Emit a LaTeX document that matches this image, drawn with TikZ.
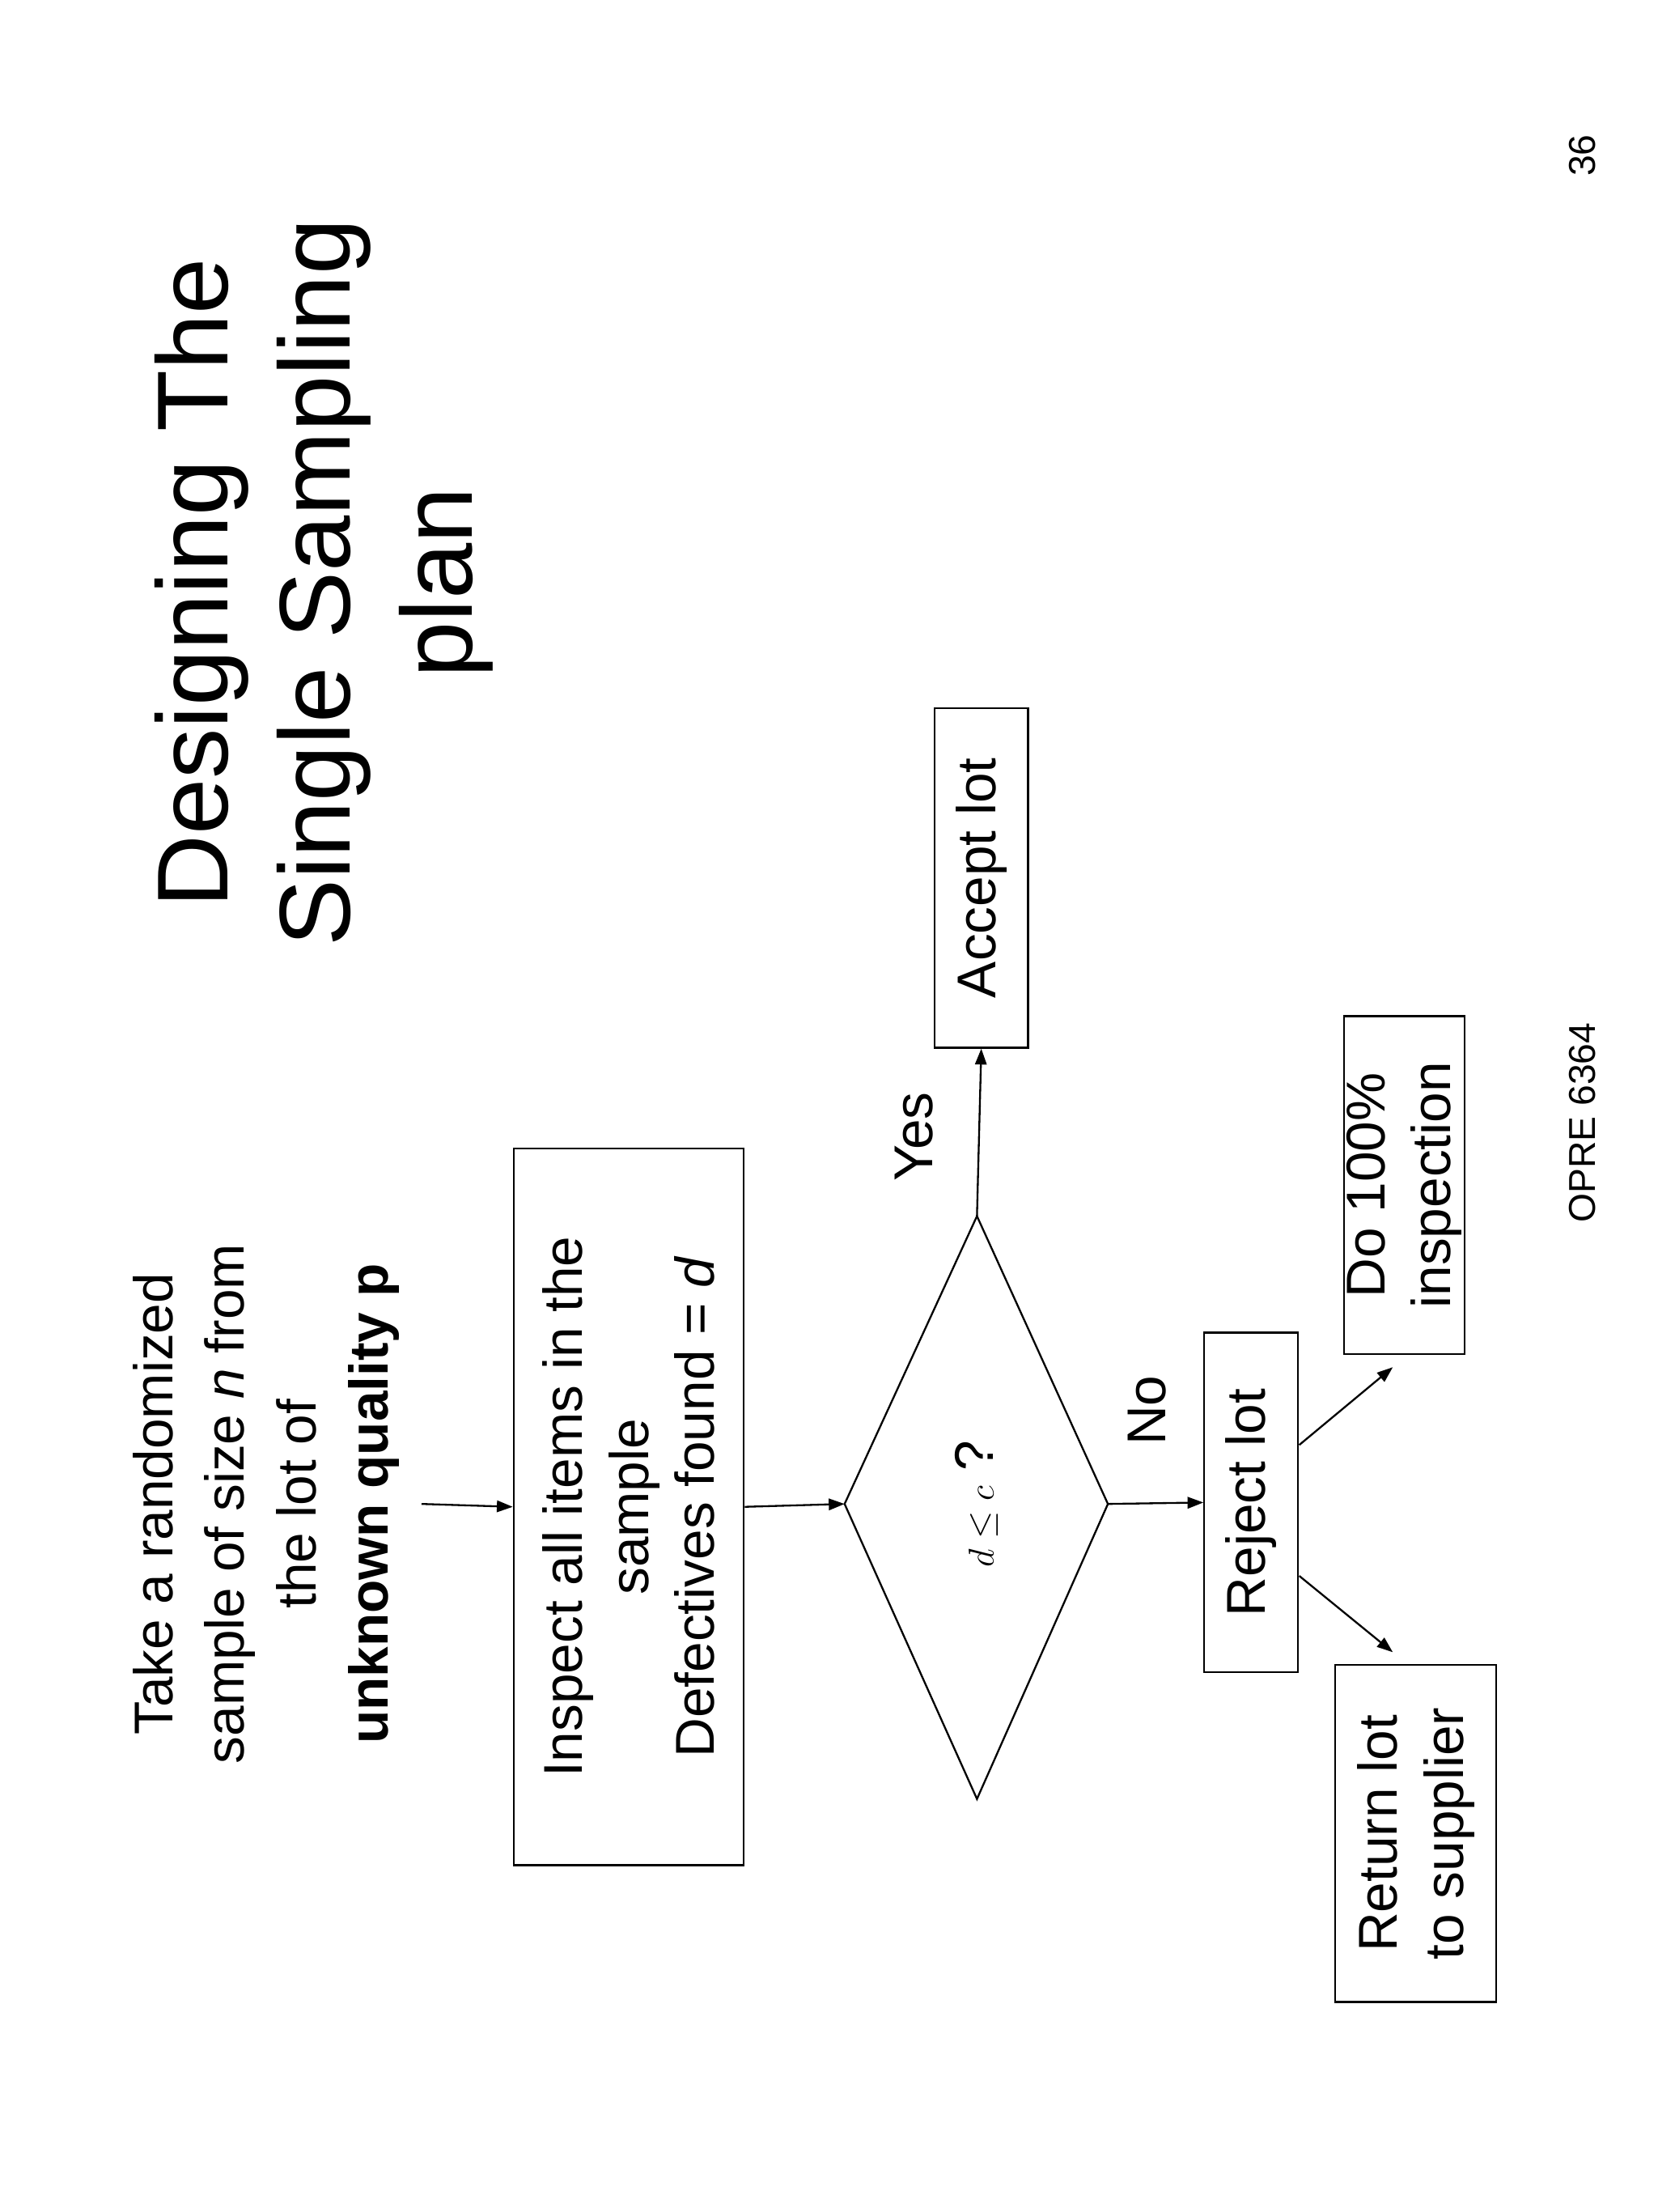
\documentclass[tikz,border=0pt]{standalone}
\usepackage{fontspec}
\setmainfont{Liberation Sans}
\usetikzlibrary{arrows.meta}
\begin{document}
\begin{tikzpicture}[x=1pt,y=1pt,
  bx/.style={draw,line width=1.3pt,rotate=90,inner sep=0pt,align=center,font=\fontsize{38}{46}\selectfont},
  tx/.style={rotate=90,align=center,font=\fontsize{38}{50}\selectfont},
  arr/.style={-{Triangle[length=11pt,width=8pt]},line width=1.3pt}]
\useasboundingbox (0,0) rectangle (1152,-1537);
\node[tx] (take) at (185,-1045) {Take a randomized\\sample of size \textit{n} from\\the lot of\\\textbf{unknown quality p}};
\node[tx,font=\fontsize{70}{85}\selectfont] (title) at (225,-405) {Designing The\\Single Sampling\\plan};
\node[bx,minimum width=498pt,minimum height=160pt] (insp) at (437,-1047) {Inspect all items in the\\sample\\Defectives found = \textit{d}};
\coordinate (dl) at (587,-1045);
\coordinate (dr) at (770,-1045);
\coordinate (dt) at (679,-845);
\coordinate (db) at (679,-1250);
\draw[line width=1.3pt] (dl)--(dt)--(dr)--(db)--cycle;
\node[tx] (cond) at (679,-1045) {$d \leq c$ ?};
\node[bx,minimum width=236pt,minimum height=65pt] (acc) at (682,-610) {Accept lot};
\node[bx,minimum width=236pt,minimum height=65pt] (rej) at (869.5,-1044) {Reject lot};
\node[bx,minimum width=235pt,minimum height=84pt] (do) at (976,-823.5) {Do 100\%\\inspection};
\node[bx,minimum width=234pt,minimum height=112pt] (ret) at (984,-1274) {Return lot\\to supplier};
\node[tx] (yes) at (635,-790) {Yes};
\node[tx] (no) at (797,-980) {No};
\node[tx,font=\fontsize{26}{30}\selectfont] (opre) at (1100,-780) {OPRE 6364};
\node[tx,font=\fontsize{26}{30}\selectfont] (num) at (1100,-108) {36};
\coordinate (a1) at (293,-1045);
\draw[arr] (a1) -- (insp.north);
\draw[arr] (insp.south) -- (dl);
\draw[arr] (dt) -- (acc.west);
\draw[arr] (dr) -- (rej.north);
\coordinate (r1) at (903,-1004);
\coordinate (r2) at (968,-950);
\coordinate (r3) at (903,-1095);
\coordinate (r4) at (968,-1148);
\draw[arr] (r1) -- (r2);
\draw[arr] (r3) -- (r4);
\end{tikzpicture}
\end{document}
